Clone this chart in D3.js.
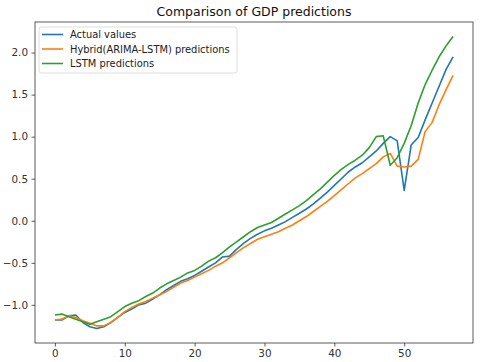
<!DOCTYPE html>
<html lang="en">
<head>
    <meta charset="UTF-8">
    <title>Comparison of GDP predictions</title>
    <style>
        body { margin: 0; background: #fff; }
        text { font-family: "DejaVu Sans", sans-serif; }
    </style>
</head>
<body>
    <script src="https://d3js.org/d3.v7.min.js"></script>
    <script>
        // values
        const actual = [-1.18, -1.18, -1.13, -1.12, -1.21, -1.26, -1.28, -1.26, -1.21, -1.15,
            -1.09, -1.05, -1.00, -0.98, -0.93, -0.88, -0.82, -0.77, -0.72, -0.69,
            -0.65, -0.60, -0.55, -0.50, -0.43, -0.42, -0.34, -0.27, -0.21, -0.16,
            -0.12, -0.09, -0.05, -0.01, 0.04, 0.09, 0.14, 0.20, 0.27, 0.34,
            0.42, 0.50, 0.58, 0.64, 0.69, 0.76, 0.83, 0.92, 1.00, 0.95,
            0.36, 0.90, 0.99, 1.20, 1.40, 1.60, 1.80, 1.95];
        const hybrid = [-1.18, -1.17, -1.13, -1.15, -1.19, -1.22, -1.25, -1.25, -1.21, -1.15,
            -1.08, -1.03, -0.99, -0.96, -0.92, -0.88, -0.84, -0.79, -0.74, -0.71,
            -0.67, -0.63, -0.59, -0.54, -0.50, -0.44, -0.38, -0.32, -0.27, -0.22,
            -0.19, -0.16, -0.13, -0.09, -0.05, 0.00, 0.05, 0.11, 0.17, 0.23,
            0.30, 0.37, 0.44, 0.51, 0.56, 0.62, 0.68, 0.76, 0.80, 0.65,
            0.64, 0.65, 0.73, 1.06, 1.17, 1.38, 1.56, 1.73];
        const lstm = [-1.12, -1.11, -1.14, -1.17, -1.20, -1.23, -1.20, -1.17, -1.14, -1.08,
            -1.02, -0.98, -0.95, -0.90, -0.86, -0.80, -0.75, -0.71, -0.67, -0.62,
            -0.59, -0.54, -0.48, -0.44, -0.38, -0.31, -0.25, -0.19, -0.13, -0.08,
            -0.05, -0.02, 0.03, 0.08, 0.13, 0.18, 0.24, 0.31, 0.38, 0.46,
            0.54, 0.61, 0.67, 0.72, 0.78, 0.87, 1.00, 1.01, 0.66, 0.75,
            0.92, 1.13, 1.40, 1.62, 1.79, 1.95, 2.08, 2.19];

        const seriesNames = ['Actual values', 'Hybrid(ARIMA-LSTM) predictions', 'LSTM predictions'];
        const seriesValues = [actual, hybrid, lstm];
        const xTicks = [0, 10, 20, 30, 40, 50];
        const yTicks = [-1.0, -0.5, 0.0, 0.5, 1.0, 1.5, 2.0];

        const width = 480,
            height = 362,
            margin = { top: 22, right: 7, bottom: 19, left: 35 },
            colors = ['#1f77b4', '#ff7f0e', '#2ca02c'];

        const svg = d3.select('body').append('svg')
            .attr('width', width).attr('height', height);

        // matplotlib-like 5% margins
        const n = actual.length - 1;
        const all = seriesValues.flat();
        const yMin = d3.min(all), yMax = d3.max(all);
        const padY = (yMax - yMin) * 0.05;

        const x = d3.scaleLinear()
            .domain([-n * 0.05, n * 1.05])
            .range([margin.left, width - margin.right]);
        const y = d3.scaleLinear()
            .domain([yMin - padY, yMax + padY])
            .range([height - margin.bottom, margin.top]);

        const fmt = d => d3.format('.1f')(d).replace('-', '\u2212');

        // axes
        const xAxis = svg.append('g')
            .attr('transform', `translate(0,${height - margin.bottom})`)
            .call(d3.axisBottom(x).tickValues(xTicks).tickSize(3.5).tickPadding(3.5));
        const yAxis = svg.append('g')
            .attr('transform', `translate(${margin.left},0)`)
            .call(d3.axisLeft(y).tickValues(yTicks).tickFormat(fmt).tickSize(3.5).tickPadding(3.5));

        [xAxis, yAxis].forEach(a => {
            a.select('.domain').remove();
            a.selectAll('line').attr('stroke', '#333').attr('stroke-width', 0.8);
            a.selectAll('text').attr('fill', '#333').style('font-size', '10.4px');
        });

        // frame
        svg.append('rect')
            .attr('x', margin.left).attr('y', margin.top)
            .attr('width', width - margin.left - margin.right)
            .attr('height', height - margin.top - margin.bottom)
            .attr('fill', 'none').attr('stroke', '#333').attr('stroke-width', 0.8);

        // lines
        const line = d3.line()
            .x((d, i) => x(i))
            .y(d => y(d));

        svg.append('g')
            .selectAll('path')
            .data(seriesValues)
            .enter().append('path')
            .attr('d', line)
            .attr('fill', 'none')
            .attr('stroke', (d, i) => colors[i])
            .attr('stroke-width', 1.6)
            .attr('stroke-linejoin', 'round');

        // title
        svg.append('text')
            .attr('x', (margin.left + width - margin.right) / 2)
            .attr('y', 16)
            .attr('text-anchor', 'middle')
            .style('font-size', '12.5px')
            .attr('fill', '#111')
            .text('Comparison of GDP predictions');

        // legend
        const legend = svg.append('g').attr('transform', 'translate(39,27)');
        legend.append('rect')
            .attr('width', 198).attr('height', 46)
            .attr('rx', 2.5)
            .attr('fill', '#fff').attr('fill-opacity', 0.8)
            .attr('stroke', '#d6d6d6').attr('stroke-width', 0.8);

        const item = legend.selectAll('g.item')
            .data(seriesNames)
            .enter().append('g')
            .attr('class', 'item')
            .attr('transform', (d, i) => `translate(0,${7.5 + i * 14.5})`);
        item.append('line')
            .attr('x1', 3).attr('x2', 24)
            .attr('stroke', (d, i) => colors[i])
            .attr('stroke-width', 1.6);
        item.append('text')
            .attr('x', 31).attr('y', 3.7)
            .style('font-size', '9.9px')
            .attr('fill', '#222')
            .text(d => d);
    </script>
</body>
</html>
